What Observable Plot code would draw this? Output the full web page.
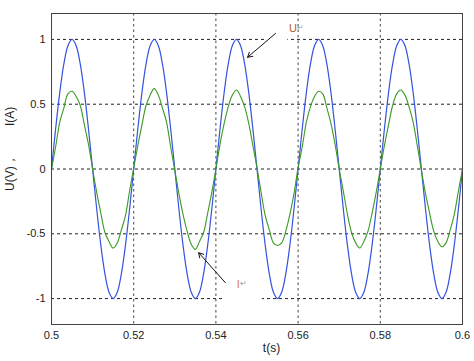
<!DOCTYPE html>
<html>
<head>
<meta charset="utf-8">
<script src="https://cdn.jsdelivr.net/npm/d3@7"></script>
<script src="https://cdn.jsdelivr.net/npm/@observablehq/plot@0.6"></script>
<style>
  html, body { margin: 0; padding: 0; background: #fff; }
  #chart { width: 474px; height: 361px; }
</style>
</head>
<body>
<div id="chart"></div>
<script>
// ---- data ----
const tStart = 0.5;
const tStep = 0.001; // sample spacing in seconds
const voltage = [
  0, 0.309, 0.588, 0.809, 0.951, 1, 0.951, 0.809, 0.588, 0.309,
  0, -0.309, -0.588, -0.809, -0.951, -1, -0.951, -0.809, -0.588, -0.309,
  0, 0.309, 0.588, 0.809, 0.951, 1, 0.951, 0.809, 0.588, 0.309,
  0, -0.309, -0.588, -0.809, -0.951, -1, -0.951, -0.809, -0.588, -0.309,
  0, 0.309, 0.588, 0.809, 0.951, 1, 0.951, 0.809, 0.588, 0.309,
  0, -0.309, -0.588, -0.809, -0.951, -1, -0.951, -0.809, -0.588, -0.309,
  0, 0.309, 0.588, 0.809, 0.951, 1, 0.951, 0.809, 0.588, 0.309,
  0, -0.309, -0.588, -0.809, -0.951, -1, -0.951, -0.809, -0.588, -0.309,
  0, 0.309, 0.588, 0.809, 0.951, 1, 0.951, 0.809, 0.588, 0.309,
  0, -0.309, -0.588, -0.809, -0.951, -1, -0.951, -0.809, -0.588, -0.309,
  0
];
const current = [
  0.00, 0.17, 0.36, 0.47, 0.58, 0.60, 0.56, 0.49, 0.34, 0.19,
  0.00, -0.18, -0.34, -0.49, -0.56, -0.61, -0.57, -0.47, -0.36, -0.17,
  0.01, 0.18, 0.34, 0.49, 0.57, 0.62, 0.57, 0.47, 0.36, 0.17,
  -0.01, -0.19, -0.35, -0.48, -0.58, -0.62, -0.56, -0.49, -0.34, -0.18,
  0.00, 0.19, 0.35, 0.48, 0.57, 0.61, 0.56, 0.48, 0.35, 0.18,
  0.01, -0.18, -0.36, -0.47, -0.57, -0.59, -0.57, -0.48, -0.35, -0.19,
  0.01, 0.17, 0.36, 0.48, 0.56, 0.60, 0.58, 0.47, 0.35, 0.19,
  0.00, -0.17, -0.35, -0.49, -0.57, -0.61, -0.56, -0.48, -0.34, -0.18,
  0.00, 0.18, 0.34, 0.49, 0.58, 0.61, 0.57, 0.48, 0.36, 0.18,
  -0.01, -0.19, -0.34, -0.48, -0.56, -0.60, -0.57, -0.47, -0.35, -0.17,
  0.00
];
const xTicks = [0.5, 0.52, 0.54, 0.56, 0.58, 0.6];
const xTickLabels = ["0.5", "0.52", "0.54", "0.56", "0.58", "0.6"];
const yTicks = [-1, -0.5, 0, 0.5, 1];
const yTickLabels = ["-1", "-0.5", "0", "0.5", "1"];
const xLabel = "t(s)";
const yLabelU = "U(V)，";
const yLabelI = "I(A)";
// annotation callouts: label, text anchor (t, v), arrow tail and head (t, v)
const callouts = [
  {label: "U", t: 0.5597, v: 1.085, t1: 0.5545, v1: 1.046, t2: 0.5477, v2: 0.862, bx1: 0.5525, bx2: 0.5575, by1: 0.93, by2: 1.13},
  {label: "I", t: 0.5458, v: -0.89, t1: 0.5423, v1: -0.877, t2: 0.5358, v2: -0.646, bx1: 0.5420, bx2: 0.5513, by1: -1.06, by2: -0.82}
];
const calloutColors = {U: "#b0602a", I: "#e0802a"};

// ---- build table ----
const samples = voltage.map((u, i) => ({t: tStart + i * tStep, u, i: current[i]}));
const font = "'Liberation Sans', Arial, sans-serif";

const chart = Plot.plot({
  width: 474,
  height: 361,
  marginLeft: 51,
  marginRight: 12,
  marginTop: 13,
  marginBottom: 37,
  style: {fontFamily: font, fontSize: "11px", color: "#222", background: "#fff"},
  x: {domain: [0.5, 0.6], ticks: xTicks, tickFormat: (d, k) => xTickLabels[k], tickSize: 0, tickPadding: 7, label: null},
  y: {domain: [-1.2, 1.2], ticks: yTicks, tickFormat: (d, k) => yTickLabels[k], tickSize: 0, tickPadding: 6, label: null},
  marks: [
    Plot.ruleX(xTicks.slice(1, -1), {stroke: "#444", strokeDasharray: "2.5,3", strokeWidth: 1}),
    Plot.ruleY(yTicks, {stroke: "#222", strokeDasharray: "3,3", strokeWidth: 1}),
    Plot.rect(callouts, {x1: "bx1", x2: "bx2", y1: "by1", y2: "by2", fill: "#fff"}),
    Plot.line(samples, {x: "t", y: "u", stroke: "#3552e0", strokeWidth: 1.2, curve: "catmull-rom"}),
    Plot.line(samples, {x: "t", y: "i", stroke: "#3a9a22", strokeWidth: 1.1, curve: "catmull-rom"}),
    Plot.arrow(callouts, {x1: "t1", y1: "v1", x2: "t2", y2: "v2", stroke: "#111", strokeWidth: 1, headLength: 8}),
    Plot.text(callouts, {x: "t", y: "v", text: "label", fill: d => calloutColors[d.label], fontSize: 11, textAnchor: "end"}),
    Plot.text(callouts, {x: "t", y: "v", text: () => "↵", fill: "#999", fontSize: 8, textAnchor: "start", dx: 0.5, dy: -1}),
    Plot.frame({stroke: "#444", strokeWidth: 1}),
    Plot.text([xLabel], {frameAnchor: "bottom", dy: 27, dx: 14.5, fontSize: 12, fill: "#222"}),
    Plot.text([yLabelU], {frameAnchor: "left", dx: -41, dy: 22, rotate: -90, fontSize: 12, fill: "#222"}),
    Plot.text([yLabelI], {frameAnchor: "left", dx: -41, dy: -43, rotate: -90, fontSize: 12, fill: "#222"})
  ]
});
document.getElementById("chart").appendChild(chart);
</script>
</body>
</html>
